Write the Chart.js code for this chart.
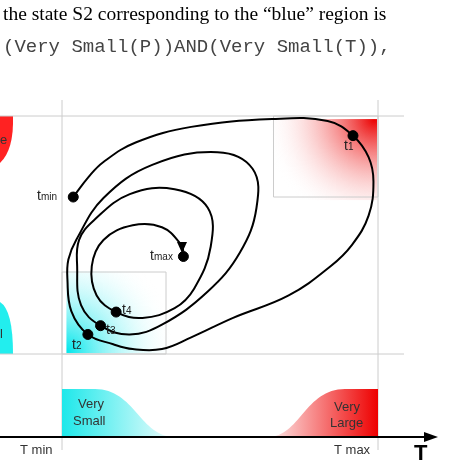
<!DOCTYPE html>
<html><head><meta charset="utf-8">
<script src="https://cdn.jsdelivr.net/npm/chart.js@4"></script>
<style>body{margin:0;background:#fff}canvas{display:block}</style>
</head><body>
<canvas id="c" width="474" height="474"></canvas>
<script>
// trajectory in figure coordinates (T across, P down)
const pathT = [69,85,100,133,190,273,330,356,372,377,372,355,333,290,233,190,160,130,110,84,67,63,64,72,100,150,217,253,257,240,207,160,127,97,77,73,75,90,127,173,207,210,193,173,140,113,93,88,100,130,160,180,182];
const pathP = [196,175,160,140,124,116,118,133,155,180,215,245,267,297,320,340,352,352,347,337,313,280,260,240,197,163,150,167,207,253,293,327,337,328,307,267,240,220,193,188,207,247,290,310,320,314,297,267,240,225,227,245,252];
const pointNames = ["tmin","t1","t2","t3","t4","tmax"];
const pointT = [69,356,84,97,113,182];
const pointP = [196,133,337,328,314,257];

const bg = {
  id:"bg",
  beforeDatasetsDraw(ch){
    const c = ch.ctx, x = v=>ch.scales.x.getPixelForValue(v), y = v=>ch.scales.y.getPixelForValue(v);
    c.save();
    // red corner
    let g = c.createRadialGradient(x(378),y(116),0,x(378),y(116),110);
    g.addColorStop(0,"rgba(235,0,0,1)"); g.addColorStop(1,"rgba(255,255,255,0)");
    c.fillStyle=g; c.fillRect(x(273),y(116),105,81);
    g = c.createRadialGradient(x(62),y(354),0,x(62),y(354),110);
    g.addColorStop(0,"rgba(0,230,235,1)"); g.addColorStop(1,"rgba(255,255,255,0)");
    c.fillStyle=g; c.fillRect(x(62),y(272),104,82);
    // left edge partial shapes
    c.fillStyle="#f22"; c.beginPath(); c.moveTo(0,116); c.lineTo(13,116); c.quadraticCurveTo(14,150,0,163); c.fill();
    c.fillStyle="#2ee"; c.beginPath(); c.moveTo(0,354); c.lineTo(13,354); c.quadraticCurveTo(13,310,0,302); c.fill();
    // grid
    c.strokeStyle="#ccc"; c.lineWidth=1; c.beginPath();
    c.moveTo(62,100); c.lineTo(62,450); c.moveTo(378,100); c.lineTo(378,450);
    c.moveTo(0,116); c.lineTo(404,116); c.moveTo(0,354); c.lineTo(404,354);
    c.rect(273.5,116,104.5,81); c.rect(62,272,104,82);
    c.stroke();
    // membership functions
    g = c.createLinearGradient(62,0,172,0); g.addColorStop(0,"#1ee8ea"); g.addColorStop(1,"#eafcfc");
    c.fillStyle=g; c.beginPath(); c.moveTo(62,437); c.lineTo(62,389); c.lineTo(95,389);
    c.bezierCurveTo(135,389,140,437,175,437); c.fill();
    g = c.createLinearGradient(270,0,378,0); g.addColorStop(0,"#fde8e8"); g.addColorStop(1,"#ee0000");
    c.fillStyle=g; c.beginPath(); c.moveTo(378,437); c.lineTo(378,389); c.lineTo(345,389);
    c.bezierCurveTo(305,389,300,437,268,437); c.fill();
    // T axis
    c.strokeStyle="#000"; c.lineWidth=2; c.beginPath(); c.moveTo(0,437); c.lineTo(428,437); c.stroke();
    c.fillStyle="#000"; c.beginPath(); c.moveTo(438,437); c.lineTo(424,432); c.lineTo(424,442); c.fill();
    // text
    c.textBaseline="alphabetic"; c.fillStyle="#000";
    c.font="19.5px 'Liberation Serif'"; c.fillText("the state S2 corresponding to the \u201cblue\u201d region is",3,20);
    c.font="19px 'Liberation Mono'"; c.fillStyle="#444"; c.fillText("(Very Small(P))AND(Very Small(T)),",3,52);
    c.font="13px 'Liberation Sans'"; c.fillStyle="#333";
    c.fillText("T min",20,454); c.fillText("T max",334,454);
    c.fillText("Very",78,408); c.fillText("Small",73,425);
    c.fillText("Very",334,411); c.fillText("Large",330,427);
    c.fillText("e",0,144); c.fillText("l",0,338);
    c.font="bold 22px 'Liberation Sans'"; c.fillStyle="#000"; c.fillText("T",414,460);
    c.restore();
  },
  afterDatasetsDraw(ch){
    const c = ch.ctx; c.save(); c.fillStyle="#222";
    const lab = [["tmin",37,200],["t1",344,150],["t2",72,349],["t3",106,334],["t4",122,314],["tmax",150,260]];
    lab.forEach(([s,x,y])=>{
      c.font="14px 'Liberation Sans'"; c.fillText("t",x,y);
      c.font="10px 'Liberation Sans'"; c.fillText(s.slice(1),x+4,y);
    });
    // arrowhead
    c.fillStyle="#000"; c.beginPath(); c.moveTo(182,253); c.lineTo(177,242); c.lineTo(187,242); c.fill();
    c.restore();
  }
};

new Chart(document.getElementById("c"),{
  type:"scatter",
  data:{datasets:[
    {data:pathT.map((t,i)=>({x:t,y:pathP[i]})),showLine:true,borderColor:"#000",borderWidth:2,tension:0.4,pointRadius:0},
    {data:pointT.map((t,i)=>({x:t,y:pointP[i],n:pointNames[i]})),pointRadius:5,backgroundColor:"#000",borderColor:"#000"}
  ]},
  options:{responsive:false,animation:false,layout:{padding:0},
    plugins:{legend:{display:false},tooltip:{enabled:false}},
    scales:{x:{display:false,min:0,max:474},y:{display:false,min:0,max:474,reverse:true}}},
  plugins:[bg]
});
</script>
</body></html>
